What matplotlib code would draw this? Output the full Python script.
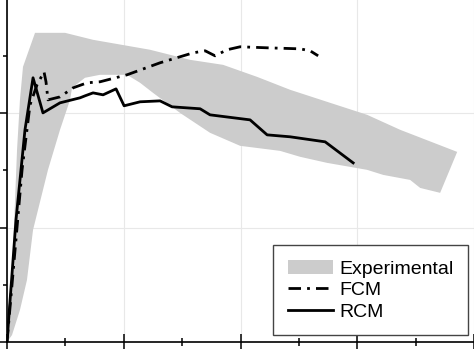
import numpy as np
import matplotlib
matplotlib.use('Agg')
import matplotlib.pyplot as plt
from matplotlib.ticker import MultipleLocator

# Experimental envelope (upper and lower bounds)
exp_upper_x = [0, 0.026, 0.051, 0.069, 0.086, 0.111, 0.137, 0.240, 0.497, 0.737,
               1.225, 1.568, 1.851, 2.142, 2.425, 2.768, 3.085, 3.368, 3.856]
exp_upper_y = [0, 0.367, 0.805, 1.242, 1.680, 2.117, 2.406, 2.703, 2.703, 2.642,
               2.555, 2.467, 2.423, 2.318, 2.205, 2.091, 1.986, 1.855, 1.662]
exp_lower_x = [0, 0.043, 0.111, 0.171, 0.223, 0.351, 0.454, 0.540, 0.557, 0.668,
               0.797, 1.028, 1.140, 1.251, 1.482, 1.739, 1.997, 2.339, 2.511,
               2.742, 3.085, 3.222, 3.453, 3.539, 3.710]
exp_lower_y = [0, 0.061, 0.280, 0.542, 0.980, 1.505, 1.855, 2.117, 2.222, 2.310,
               2.336, 2.336, 2.266, 2.178, 2.003, 1.829, 1.715, 1.671, 1.619,
               1.566, 1.505, 1.461, 1.417, 1.347, 1.304]

# FCM model
fcm_x = [0, 0.069, 0.129, 0.197, 0.257, 0.317, 0.334, 0.351, 0.454, 0.566, 0.686,
         0.797, 1.028, 1.311, 1.594, 1.697, 1.782, 1.885, 1.997, 2.228, 2.511,
         2.596, 2.665]
fcm_y = [0, 0.805, 1.505, 2.073, 2.248, 2.362, 2.275, 2.117, 2.143, 2.222, 2.266,
         2.275, 2.336, 2.441, 2.528, 2.546, 2.502, 2.555, 2.581, 2.572, 2.563,
         2.546, 2.502]

# RCM model
rcm_x = [0, 0.077, 0.154, 0.223, 0.308, 0.454, 0.626, 0.668, 0.737, 0.823, 0.934,
         1.003, 1.140, 1.311, 1.414, 1.654, 1.739, 2.082, 2.228, 2.425, 2.725, 2.965]
rcm_y = [0, 1.067, 1.855, 2.310, 2.003, 2.091, 2.135, 2.152, 2.178, 2.161, 2.213,
         2.065, 2.100, 2.108, 2.056, 2.039, 1.986, 1.942, 1.811, 1.794, 1.750, 1.566]

plt.rcParams['font.family'] = ['Liberation Sans', 'DejaVu Sans']

fig = plt.figure(figsize=(4.74, 3.49), dpi=100)
ax = fig.add_axes([7 / 474, 7 / 349, 467 / 474, 342 / 349])

# Envelope polygon: upper bound forward, lower bound backward
poly_x = exp_upper_x + exp_lower_x[::-1]
poly_y = exp_upper_y + exp_lower_y[::-1]
ax.fill(poly_x, poly_y, color='#cccccc', lw=0, label='Experimental', zorder=1)

ax.plot(fcm_x, fcm_y, color='black', lw=2, linestyle=(0, (4.5, 2.2, 1, 2.2)),
        label='FCM', zorder=3)
ax.plot(rcm_x, rcm_y, color='black', lw=2, label='RCM', zorder=3)

ax.set_xlim(0, 4.0)
ax.set_ylim(0, 2.99)

ax.xaxis.set_major_locator(MultipleLocator(1))
ax.xaxis.set_minor_locator(MultipleLocator(0.5))
ax.yaxis.set_major_locator(MultipleLocator(1))
ax.yaxis.set_minor_locator(MultipleLocator(0.5))
ax.set_xticklabels([])
ax.set_yticklabels([])
ax.tick_params(axis='x', which='major', direction='inout', length=12, width=1.1)
ax.tick_params(axis='x', which='minor', direction='inout', length=6, width=1.1)
ax.tick_params(axis='y', which='major', direction='out', length=5, width=1.1)
ax.tick_params(axis='y', which='minor', direction='out', length=3, width=1.1)

ax.grid(True, which='major', color='#e8e8e8', lw=0.8)
ax.set_axisbelow(True)

for side in ['top', 'right']:
    ax.spines[side].set_visible(False)
for side in ['left', 'bottom']:
    ax.spines[side].set_linewidth(1.2)

leg = ax.legend(loc='lower right', bbox_to_anchor=(0.988, 0.02), borderaxespad=0,
                fontsize=14, fancybox=False, framealpha=1, edgecolor='#444444',
                handlelength=2.3, handletextpad=0.35, labelspacing=0.2,
                borderpad=0.75)
leg.get_frame().set_linewidth(1.0)

fig.savefig('out.png', dpi=100)
